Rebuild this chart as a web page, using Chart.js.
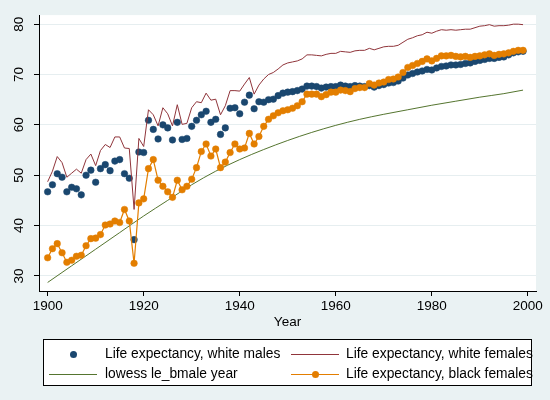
<!DOCTYPE html>
<html>
<head>
<meta charset="utf-8">
<title>US life expectancy</title>
<script src="https://cdn.jsdelivr.net/npm/chart.js@4.4.1/dist/chart.umd.min.js"></script>
<style>
  html, body { margin: 0; padding: 0; }
  body {
    width: 550px; height: 400px; position: relative; overflow: hidden;
    background: #eaf2f3;
    font-family: 'Liberation Sans', Arial, sans-serif;
  }
  #chart { position: absolute; left: 0; top: 0; }
  #legend {
    position: absolute; left: 43px; top: 339px; width: 489px; height: 47px;
    box-sizing: border-box; border: 1px solid #000; background: #fff;
  }
  .lg-text { position: absolute; font-size: 13.8px; line-height: 16px; white-space: nowrap; color: #000; }
  .lg-line { position: absolute; height: 1px; }
  .lg-dot { position: absolute; width: 7px; height: 7px; border-radius: 50%; }
</style>
</head>
<body>
<canvas id="chart" width="550" height="400"></canvas>
<div id="legend"></div>
<script>
// first year of the yearly series (1900..1999)
const firstYear = 1900;

// Life expectancy, white males
const leWmale = [
  46.7, 48.1, 50.3, 49.6, 46.7, 47.6, 47.3, 46.1, 50.0, 51.0,
  48.6, 51.3, 52.1, 50.9, 52.8, 53.1, 50.3, 49.4, 37.2, 54.6,
  54.5, 60.9, 59.1, 57.2, 60.0, 59.4, 57.0, 60.5, 57.1, 57.3,
  59.7, 60.9, 62.0, 62.7, 60.5, 61.1, 58.1, 59.4, 63.3, 63.4,
  62.2, 64.5, 65.9, 63.2, 64.6, 64.5, 65.0, 65.1, 65.8, 66.3,
  66.5, 66.6, 66.8, 67.1, 67.7, 67.7, 67.6, 67.3, 67.5, 67.6,
  67.6, 67.9, 67.7, 67.6, 67.8, 67.7, 67.6, 67.8, 67.5, 67.8,
  68.0, 68.3, 68.4, 68.7, 69.3, 69.9, 70.2, 70.5, 70.7, 71.0,
  70.9, 71.3, 71.6, 71.7, 71.9, 71.9, 72.0, 72.2, 72.3, 72.6,
  72.8, 73.0, 73.2, 73.2, 73.4, 73.5, 73.9, 74.3, 74.5, 74.6
];

// Life expectancy, white females
const leWfemale = [
  48.7, 50.8, 53.7, 52.5, 49.6, 50.4, 51.2, 50.4, 53.1, 54.2,
  51.9, 54.9, 56.1, 55.5, 57.6, 57.6, 55.4, 55.3, 43.2, 57.3,
  55.7, 63.0, 62.0, 59.8, 63.4, 62.2, 59.8, 64.0, 60.1, 60.3,
  63.4, 64.6, 64.4, 66.3, 64.9, 65.1, 62.0, 63.8, 66.8, 66.8,
  66.7, 68.1, 69.4, 66.1, 67.9, 69.1, 70.0, 70.4, 71.1, 71.9,
  72.3, 72.5, 72.7, 73.1, 73.9, 73.9, 73.8, 73.7, 74.0, 74.2,
  74.2, 74.6, 74.5, 74.4, 74.7, 74.8, 74.8, 75.2, 74.9, 75.2,
  75.5, 75.6, 75.6, 75.8, 76.4, 77.0, 77.3, 77.7, 77.9, 78.4,
  78.2, 78.6, 78.9, 78.8, 78.9, 78.8, 78.9, 79.0, 79.0, 79.3,
  79.6, 79.7, 79.9, 79.6, 79.7, 79.7, 79.8, 80.0, 80.0, 79.9
];

// Life expectancy, black females
const leBfemale = [
  33.6, 35.4, 36.4, 34.6, 32.7, 33.1, 33.9, 34.1, 36.0, 37.4,
  37.5, 38.2, 40.1, 40.3, 40.9, 40.6, 43.2, 40.9, 32.5, 44.5,
  45.3, 51.3, 53.1, 49.0, 47.8, 46.7, 45.6, 49.0, 47.1, 47.8,
  49.2, 51.5, 54.7, 56.2, 53.8, 55.2, 51.5, 52.6, 54.5, 56.2,
  55.2, 55.4, 58.3, 56.2, 57.7, 59.7, 61.1, 61.8, 62.4, 62.8,
  63.0, 63.3, 63.8, 64.6, 66.1, 66.1, 66.1, 65.6, 66.0, 66.5,
  66.5, 66.9, 66.8, 66.6, 67.2, 67.4, 67.4, 68.2, 67.9, 68.3,
  68.5, 69.0, 69.1, 69.5, 70.4, 71.4, 71.8, 72.2, 72.6, 73.1,
  72.7, 73.2, 73.7, 73.7, 73.8, 73.6, 73.5, 73.6, 73.4, 73.6,
  73.7, 73.9, 74.1, 73.8, 74.0, 74.1, 74.3, 74.6, 74.8, 74.8
];

// lowess le_bmale year (smooth curve, read at a few years)
const lowessYears = [1900, 1905, 1910, 1915, 1920, 1925, 1930, 1935, 1940, 1945, 1950,
                     1955, 1960, 1965, 1970, 1975, 1980, 1985, 1990, 1995, 1999];
const lowessValues = [28.7, 32.0, 35.3, 38.6, 41.9, 45.0, 48.1, 50.8, 53.1, 55.1, 56.9,
                      58.5, 59.9, 61.1, 62.1, 63.0, 63.9, 64.7, 65.5, 66.2, 66.9];

// axis ticks
const xTicks = [1900, 1920, 1940, 1960, 1980, 2000];
const yTicks = [30, 40, 50, 60, 70, 80];

const toPoints = (vals) => vals.map((v, i) => ({ x: firstYear + i, y: v }));
const lowessPoints = lowessYears.map((yr, i) => ({ x: yr, y: lowessValues[i] }));

const navy = '#1a476f';
const maroon = '#90353b';
const forest = '#55752f';
const orange = '#e37e00';

// white plot region
const plotRegion = {
  id: 'plotRegion',
  beforeDraw(chart) {
    const a = chart.chartArea;
    const ctx = chart.ctx;
    ctx.save();
    ctx.fillStyle = '#ffffff';
    ctx.fillRect(a.left, a.top, a.right - a.left, a.bottom - a.top);
    ctx.restore();
  },
};

Chart.defaults.font.family = "'Liberation Sans', Arial, sans-serif";
Chart.defaults.font.size = 13.5;
Chart.defaults.color = '#000';

const chart = new Chart(document.getElementById('chart').getContext('2d'), {
  type: 'line',
  data: {
    datasets: [
      {
        label: 'Life expectancy, white males',
        data: toPoints(leWmale),
        showLine: false,
        pointRadius: 3.3,
        pointBackgroundColor: navy,
        pointBorderColor: navy,
        pointBorderWidth: 0.5,
        borderColor: navy,
        backgroundColor: navy,
        order: 4,
      },
      {
        label: 'Life expectancy, white females',
        data: toPoints(leWfemale),
        borderColor: maroon,
        backgroundColor: maroon,
        borderWidth: 1,
        pointRadius: 0,
        tension: 0,
        order: 3,
      },
      {
        label: 'lowess le_bmale year',
        data: lowessPoints,
        borderColor: forest,
        backgroundColor: forest,
        borderWidth: 1,
        pointRadius: 0,
        cubicInterpolationMode: 'monotone',
        order: 2,
      },
      {
        label: 'Life expectancy, black females',
        data: toPoints(leBfemale),
        borderColor: orange,
        backgroundColor: orange,
        borderWidth: 1.2,
        pointRadius: 3.3,
        pointBackgroundColor: orange,
        pointBorderColor: orange,
        pointBorderWidth: 0.5,
        tension: 0,
        order: 1,
      },
    ],
  },
  options: {
    responsive: false,
    animation: false,
    events: [],
    layout: { padding: { left: 0, right: 14, top: 14, bottom: 70 } },
    plugins: {
      legend: { display: false },
      tooltip: { enabled: false },
    },
    scales: {
      x: {
        type: 'linear',
        min: 1898.2,
        max: 2001.7,
        afterBuildTicks(scale) {
          scale.ticks = xTicks.map((v) => ({ value: v }));
        },
        afterFit(scale) {
          scale.height = 39;
        },
        ticks: {
          callback: (v) => String(v),
          maxRotation: 0,
          padding: 2,
          color: '#000',
        },
        grid: {
          drawOnChartArea: false,
          drawTicks: true,
          tickLength: 5,
          tickColor: '#000',
        },
        border: { color: '#000', width: 1 },
        title: {
          display: true,
          text: 'Year',
          color: '#000',
          font: { size: 13.5 },
          padding: 0,
        },
      },
      y: {
        type: 'linear',
        min: 27.0,
        max: 81.8,
        afterBuildTicks(scale) {
          scale.ticks = yTicks.map((v) => ({ value: v }));
        },
        afterFit(scale) {
          scale.width = 39;
        },
        ticks: {
          minRotation: 90,
          maxRotation: 90,
          crossAlign: 'center',
          padding: 7,
          color: '#000',
        },
        grid: {
          color: '#e6eef0',
          lineWidth: 1,
          tickLength: 5,
          tickColor: '#000',
        },
        border: { color: '#000', width: 1 },
      },
    },
  },
  plugins: [plotRegion],
});

// Legend: two columns in a box, built from the chart's datasets
const legend = document.getElementById('legend');
const slots = [
  { ds: 0, col: 0, row: 0, kind: 'dot' },
  { ds: 1, col: 1, row: 0, kind: 'line' },
  { ds: 2, col: 0, row: 1, kind: 'line' },
  { ds: 3, col: 1, row: 1, kind: 'linedot' },
];
const colSym = [{ x0: 5, x1: 53 }, { x0: 247, x1: 295 }];
const colText = [61, 302];
const rowMid = [14, 34];

slots.forEach((s) => {
  const ds = chart.data.datasets[s.ds];
  const sx = colSym[s.col];
  const cy = rowMid[s.row];
  const cx = (sx.x0 + sx.x1) / 2;
  if (s.kind === 'line' || s.kind === 'linedot') {
    const ln = document.createElement('div');
    ln.className = 'lg-line';
    ln.style.left = sx.x0 + 'px';
    ln.style.width = (sx.x1 - sx.x0) + 'px';
    ln.style.top = (cy - 0.5) + 'px';
    ln.style.background = ds.borderColor;
    legend.appendChild(ln);
  }
  if (s.kind === 'dot' || s.kind === 'linedot') {
    const dot = document.createElement('div');
    dot.className = 'lg-dot';
    dot.style.left = (cx - 3.5) + 'px';
    dot.style.top = (cy - 3.5) + 'px';
    dot.style.background = ds.pointBackgroundColor;
    legend.appendChild(dot);
  }
  const t = document.createElement('div');
  t.className = 'lg-text';
  t.style.left = colText[s.col] + 'px';
  t.style.top = (cy - 8) + 'px';
  t.textContent = ds.label;
  legend.appendChild(t);
});
</script>
</body>
</html>
